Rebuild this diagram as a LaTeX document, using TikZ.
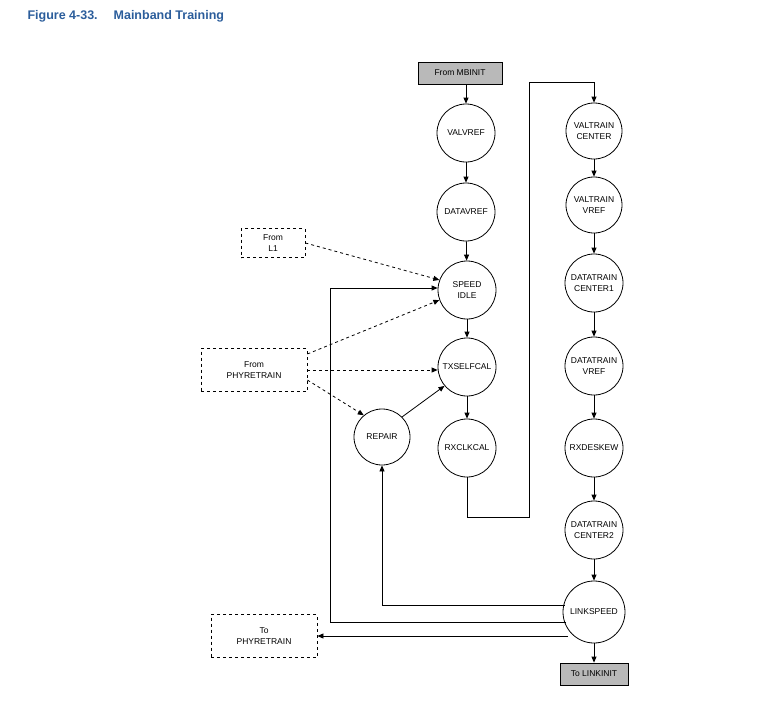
\documentclass[tikz,border=0pt]{standalone}
\usepackage{fontspec}
\setmainfont{Liberation Sans}
\usetikzlibrary{arrows.meta}
\definecolor{titleblue}{HTML}{2B5D9B}
\begin{document}
\begin{tikzpicture}[x=1pt,y=-1pt,
  st/.style={circle,draw,thick,minimum size=58pt,inner sep=0pt,align=center,font=\fontsize{8.5}{10.5}\selectfont},
  gbox/.style={draw,thick,fill=gray!55,minimum height=22pt,font=\fontsize{8.5}{10}\selectfont},
  dbox/.style={draw,thick,dashed,align=center,font=\fontsize{8.5}{11}\selectfont},
  ar/.style={-{Triangle[length=6pt,width=5pt]},thick},
  dar/.style={ar,dashed}]
\useasboundingbox (0,0) rectangle (781,704);
\node[anchor=west,font=\bfseries\fontsize{12.5}{14}\selectfont,text=titleblue] (title) at (24,16) {Figure 4-33.\quad\ Mainband Training};
\node[gbox,minimum width=84pt] (mb) at (460,73) {From MBINIT};
\node[st] (valvref) at (466,133) {VALVREF};
\node[st] (datavref) at (466,212) {DATAVREF};
\node[st] (speed) at (467,290) {SPEED\\IDLE};
\node[st] (txself) at (467,367) {TXSELFCAL};
\node[st] (rxclk) at (467,448) {RXCLKCAL};
\node[st,minimum size=56pt] (repair) at (382,437) {REPAIR};
\node[st,minimum size=56pt] (vc) at (594,131) {VALTRAIN\\CENTER};
\node[st,minimum size=56pt] (vv) at (594,205) {VALTRAIN\\VREF};
\node[st] (dc1) at (594,283) {DATATRAIN\\CENTER1};
\node[st] (dv) at (594,366) {DATATRAIN\\VREF};
\node[st] (rxd) at (594,448) {RXDESKEW};
\node[st] (dc2) at (594,530) {DATATRAIN\\CENTER2};
\node[st,minimum size=62pt] (ls) at (594,612) {LINKSPEED};
\node[gbox,minimum width=68pt] (li) at (594,674) {To LINKINIT};
\node[dbox,minimum width=64pt,minimum height=29pt] (l1) at (273,243) {From\\L1};
\node[dbox,minimum width=106pt,minimum height=43pt] (pr) at (254,370) {From\\PHYRETRAIN};
\node[dbox,minimum width=106pt,minimum height=43pt] (tpr) at (264,636) {To\\PHYRETRAIN};
\draw[ar] (valvref.north |- mb.south) -- (valvref);
\draw[ar] (valvref) -- (datavref);
\draw[ar] (datavref) -- (speed);
\draw[ar] (speed) -- (txself);
\draw[ar] (txself) -- (rxclk);
\draw[ar] (vc) -- (vv);
\draw[ar] (vv) -- (dc1);
\draw[ar] (dc1) -- (dv);
\draw[ar] (dv) -- (rxd);
\draw[ar] (rxd) -- (dc2);
\draw[ar] (dc2) -- (ls);
\draw[ar] (ls) -- (li);
\draw[ar] (rxclk.south) -- (467,517) -- (529,517) -- (529,82) -- (594,82) -- (vc.north);
\draw[ar] (565,605) -- (382,605) -- (repair.south);
\draw[ar] (566,622) -- (330,622) -- (330,288) -- (speed.west |- 0,288);
\draw[ar] (568,636) -- (tpr.east);
\draw[dar] (l1.east) -- (speed.160);
\draw[dar] (pr.east |- 0,354) -- (speed.200);
\draw[dar] (pr.east |- 0,370) -- (txself.west |- 0,370);
\draw[dar] (pr.east |- 0,380) -- (repair.130);
\draw[ar] (repair.45) -- (txself.220);
\end{tikzpicture}
\end{document}
